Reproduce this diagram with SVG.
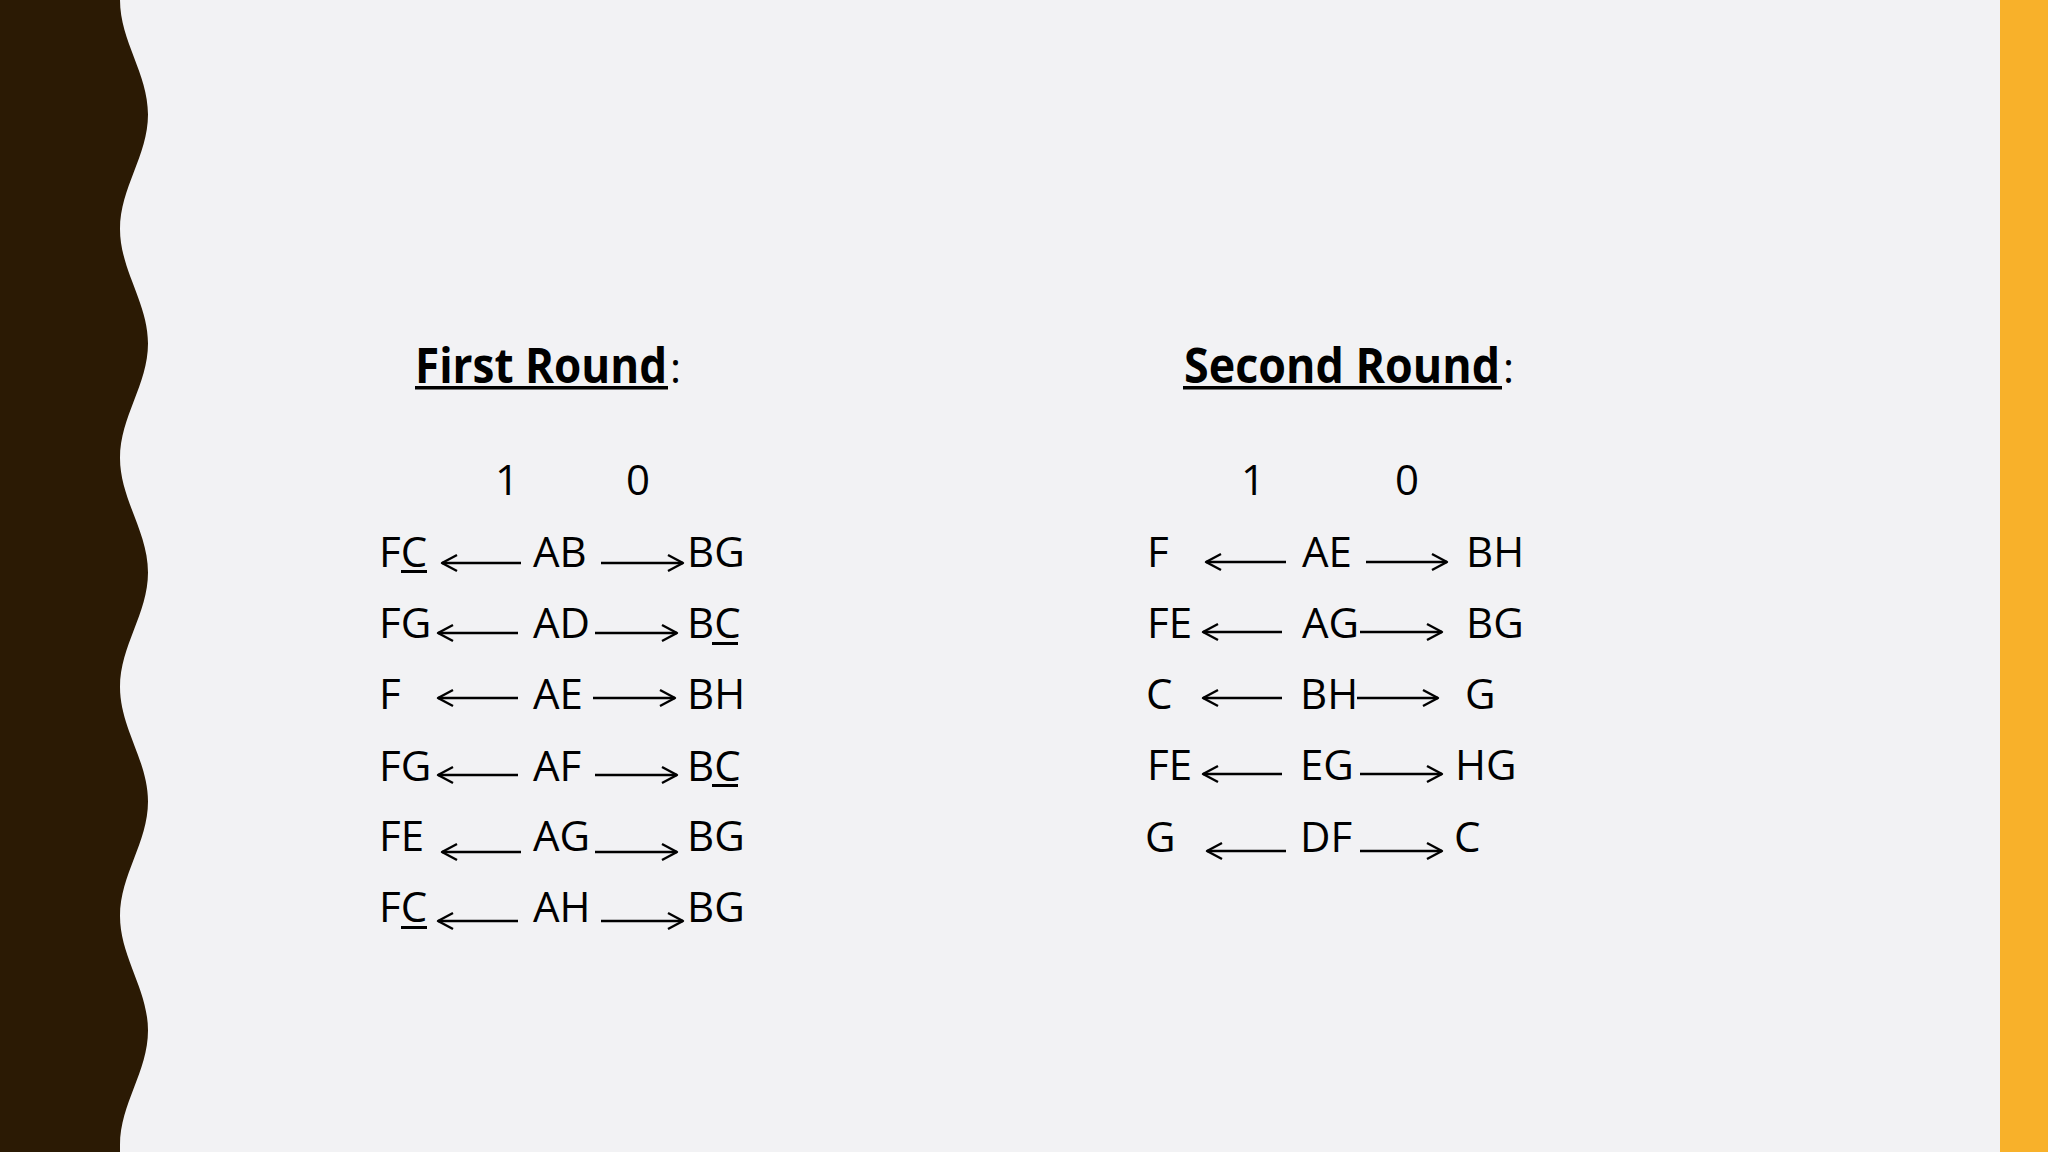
<svg xmlns="http://www.w3.org/2000/svg" width="2048" height="1152" viewBox="0 0 2048 1152">
<defs>
<style>
.t{font-family:"Open Sans","Noto Sans","DejaVu Sans",sans-serif;font-size:42px;fill:#000}
.h{font-family:"Open Sans","Noto Sans","DejaVu Sans",sans-serif;font-size:48px;font-weight:bold;fill:#000}
.c{font-family:"Open Sans","Noto Sans","DejaVu Sans",sans-serif;font-size:42px;fill:#000}
.u{fill:#000}
.a{stroke:#000;stroke-width:2.4;fill:none;marker-end:url(#ah)}
</style>
<marker id="ah" viewBox="-18 -11 20 22" refX="0" refY="0" markerWidth="20" markerHeight="22" markerUnits="userSpaceOnUse" orient="auto">
<path d="M-15,-8 L0,0 L-15,8" fill="none" stroke="#000" stroke-width="2.4" stroke-linejoin="round"/>
</marker>
</defs>
<rect width="2048" height="1152" fill="#F2F2F4"/>
<path id="wave" fill="#2B1A04" d="M0,0 H120 C120,41 148,73.5 148,114.5 C148,155.5 120,188 120,229 C120,270 148,302.5 148,343.5 C148,384.5 120,417 120,458 C120,499 148,531.5 148,572.5 C148,613.5 120,646 120,687 C120,728 148,760.5 148,801.5 C148,842.5 120,875 120,916 C120,957 148,989.5 148,1030.5 C148,1071.5 120,1104 120,1145 L120,1152 H0 Z"/>
<rect id="bar" x="2000" y="0" width="48" height="1152" fill="#F8B12A"/>

<g id="title1"><text class="h" x="415" y="383" textLength="252" lengthAdjust="spacingAndGlyphs">First Round</text><text class="c" x="670" y="383">:</text><rect class="u" x="415" y="386" width="253" height="3.5"/></g>
<g id="title2"><text class="h" x="1184" y="383" textLength="316" lengthAdjust="spacingAndGlyphs">Second Round</text><text class="c" x="1503" y="383">:</text><rect class="u" x="1183" y="386" width="319" height="3.5"/></g>

<g id="hdr1"><text class="t" x="507" y="495" text-anchor="middle">1</text><text class="t" x="638" y="495" text-anchor="middle">0</text></g>
<g id="hdr2"><text class="t" x="1253" y="495" text-anchor="middle">1</text><text class="t" x="1407" y="495" text-anchor="middle">0</text></g>

<g id="r1-FC1"><text class="t" x="379" y="567">FC</text><rect class="u" x="401" y="570" width="26" height="3"/></g>
<g id="r1-AB"><text class="t" x="533" y="567">AB</text></g>
<g id="r1-BG1"><text class="t" x="687" y="567">BG</text></g>
<g id="r1-FG1"><text class="t" x="379" y="638">FG</text></g>
<g id="r1-AD"><text class="t" x="533" y="638">AD</text></g>
<g id="r1-BC1"><text class="t" x="687" y="638">BC</text><rect class="u" x="712" y="642" width="26" height="3"/></g>
<g id="r1-F"><text class="t" x="379" y="709">F</text></g>
<g id="r1-AE"><text class="t" x="533" y="709">AE</text></g>
<g id="r1-BH"><text class="t" x="687" y="709">BH</text></g>
<g id="r1-FG2"><text class="t" x="379" y="781">FG</text></g>
<g id="r1-AF"><text class="t" x="533" y="781">AF</text></g>
<g id="r1-BC2"><text class="t" x="687" y="781">BC</text><rect class="u" x="712" y="784" width="26" height="3"/></g>
<g id="r1-FE"><text class="t" x="379" y="851">FE</text></g>
<g id="r1-AG"><text class="t" x="533" y="851">AG</text></g>
<g id="r1-BG2"><text class="t" x="687" y="851">BG</text></g>
<g id="r1-FC2"><text class="t" x="379" y="922">FC</text><rect class="u" x="401" y="926" width="26" height="3"/></g>
<g id="r1-AH"><text class="t" x="533" y="922">AH</text></g>
<g id="r1-BG3"><text class="t" x="687" y="922">BG</text></g>

<g id="r2-F"><text class="t" x="1147" y="567">F</text></g>
<g id="r2-AE"><text class="t" x="1302" y="567">AE</text></g>
<g id="r2-BH1"><text class="t" x="1466" y="567">BH</text></g>
<g id="r2-FE1"><text class="t" x="1147" y="638">FE</text></g>
<g id="r2-AG"><text class="t" x="1302" y="638">AG</text></g>
<g id="r2-BG"><text class="t" x="1466" y="638">BG</text></g>
<g id="r2-C1"><text class="t" x="1146" y="709">C</text></g>
<g id="r2-BH2"><text class="t" x="1300" y="709">BH</text></g>
<g id="r2-G1"><text class="t" x="1465" y="709">G</text></g>
<g id="r2-FE2"><text class="t" x="1147" y="780">FE</text></g>
<g id="r2-EG"><text class="t" x="1300" y="780">EG</text></g>
<g id="r2-HG"><text class="t" x="1455" y="780">HG</text></g>
<g id="r2-G2"><text class="t" x="1145" y="852">G</text></g>
<g id="r2-DF"><text class="t" x="1300" y="852">DF</text></g>
<g id="r2-C2"><text class="t" x="1454" y="852">C</text></g>

<g id="connectors">
<line class="a" x1="521" y1="563" x2="442" y2="563"/>
<line class="a" x1="601" y1="563" x2="683" y2="563"/>
<line class="a" x1="518" y1="633" x2="438" y2="633"/>
<line class="a" x1="595" y1="633" x2="677" y2="633"/>
<line class="a" x1="518" y1="698" x2="438" y2="698"/>
<line class="a" x1="593" y1="698" x2="675" y2="698"/>
<line class="a" x1="518" y1="775" x2="438" y2="775"/>
<line class="a" x1="595" y1="775" x2="677" y2="775"/>
<line class="a" x1="521" y1="852" x2="442" y2="852"/>
<line class="a" x1="595" y1="852" x2="677" y2="852"/>
<line class="a" x1="518" y1="921" x2="438" y2="921"/>
<line class="a" x1="601" y1="921" x2="683" y2="921"/>

<line class="a" x1="1286" y1="562" x2="1206" y2="562"/>
<line class="a" x1="1366" y1="562" x2="1447" y2="562"/>
<line class="a" x1="1282" y1="632" x2="1203" y2="632"/>
<line class="a" x1="1360" y1="632" x2="1442" y2="632"/>
<line class="a" x1="1282" y1="698" x2="1203" y2="698"/>
<line class="a" x1="1357" y1="698" x2="1438" y2="698"/>
<line class="a" x1="1282" y1="774" x2="1203" y2="774"/>
<line class="a" x1="1360" y1="774" x2="1442" y2="774"/>
<line class="a" x1="1286" y1="851" x2="1207" y2="851"/>
<line class="a" x1="1360" y1="851" x2="1442" y2="851"/>
</g>
</svg>
